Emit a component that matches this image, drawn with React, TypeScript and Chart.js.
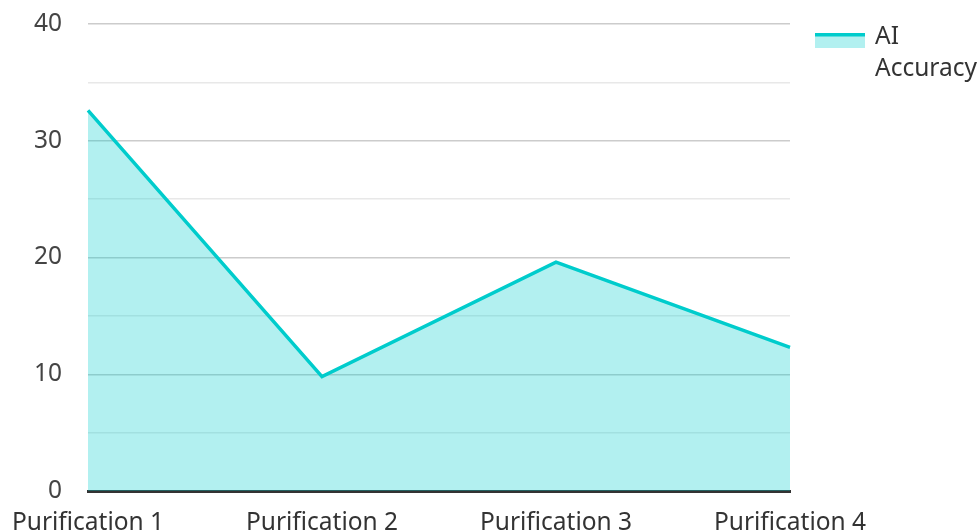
import React, { useEffect, useRef } from "react";
import { Chart, registerables } from "chart.js";

Chart.register(...registerables);

const categories = ["Purification 1", "Purification 2", "Purification 3", "Purification 4"];
const accuracy = [32.6, 9.8, 19.6, 12.3];
const seriesLabel = ["AI", "Accuracy"];

const LINE = "rgb(0,204,204)";
const FILL = "rgba(0,204,204,0.3)";
const FONT = "'Noto Sans', sans-serif";
const FS = 24.5;

const legendPlugin = {
  id: "customLegend",
  afterDraw(chart: any) {
    const ctx = chart.ctx;
    const area = chart.chartArea;
    chart.data.datasets.forEach((ds: any, i: number) => {
      const x = area.right + 25;
      const y = area.top + 9 + i * 70;
      ctx.save();
      ctx.fillStyle = ds.backgroundColor;
      ctx.fillRect(x, y, 50, 15);
      ctx.fillStyle = ds.borderColor;
      ctx.fillRect(x, y, 50, 3.5);
      ctx.fillStyle = "#333";
      ctx.font = `${FS}px ${FONT}`;
      ctx.textBaseline = "middle";
      ctx.textAlign = "left";
      const lines: string[] = Array.isArray(ds.label) ? ds.label : [ds.label];
      lines.forEach((t, k) => ctx.fillText(t, x + 60, y + 4 + k * 32));
      ctx.restore();
    });
  },
};

export default function App() {
  const ref = useRef<HTMLCanvasElement>(null);
  useEffect(() => {
    document.body.style.margin = "0";
    const chart = new Chart(ref.current!, {
      type: "line",
      data: {
        labels: categories,
        datasets: [
          {
            label: seriesLabel as any,
            data: accuracy,
            borderColor: LINE,
            backgroundColor: FILL,
            borderWidth: 3.5,
            fill: "origin",
            pointRadius: 0,
            tension: 0,
          },
        ],
      },
      options: {
        animation: false,
        responsive: false,
        maintainAspectRatio: false,
        layout: { padding: { left: 0, right: 190, top: 24, bottom: 0 } },
        plugins: {
          tooltip: { enabled: false },
          legend: { display: false },
        },
        scales: {
          x: {
            grid: { display: false },
            border: { display: true, color: "#333", width: 3 },
            afterFit: (s: any) => {
              s.height = 41;
            },
            ticks: {
              color: "#333",
              font: { family: FONT, size: FS },
              maxRotation: 0,
              autoSkip: false,
              padding: 9,
            },
          },
          y: {
            min: 0,
            max: 40,
            border: { display: false },
            afterFit: (s: any) => {
              s.width = 88;
            },
            grid: {
              color: (c: any) => (c.tick && c.tick.value % 10 === 0 ? "#cccccc" : "#e8e8e8"),
              lineWidth: 1.5,
              drawTicks: true,
              tickLength: 24,
              tickColor: "rgba(0,0,0,0)",
            },
            ticks: {
              stepSize: 5,
              color: "#444",
              padding: 2,
              font: { family: FONT, size: FS },
              callback: (v: any) => (Number(v) % 10 === 0 ? String(v) : ""),
            },
          },
        },
      },
      plugins: [legendPlugin],
    });
    return () => chart.destroy();
  }, []);
  return (
    <div style={{ width: 980, height: 532 }}>
      <canvas ref={ref} width={980} height={532} style={{ width: 980, height: 532 }} />
    </div>
  );
}
